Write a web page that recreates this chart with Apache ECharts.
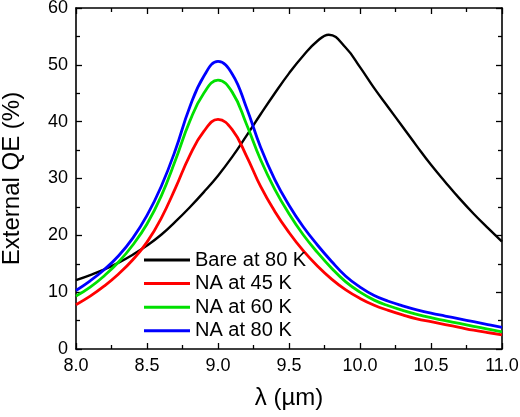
<!DOCTYPE html>
<html>
<head>
<meta charset="utf-8">
<script src="https://cdn.jsdelivr.net/npm/echarts@6/dist/echarts.min.js"></script>
<style>html,body{margin:0;padding:0;background:#fff}#c{width:520px;height:417px}</style>
</head>
<body>
<div id="c"></div>
<script>
// Wavelength grids (µm)
var lambdaNA = [8.0,8.1,8.2,8.3,8.4,8.5,8.6,8.7,8.8,8.9,9.0,9.1,9.2,9.3,9.4,9.5,9.6,9.7,9.8,9.9,10.0,10.1,10.2,10.3,10.4,10.5,10.6,10.7,10.8,10.9,11.0];
var lambdaBare = [8.0,8.1,8.2,8.3,8.4,8.5,8.6,8.7,8.8,8.9,9.0,9.1,9.2,9.3,9.4,9.5,9.6,9.7,9.78,9.9,10.0,10.1,10.2,10.3,10.4,10.5,10.6,10.7,10.8,10.9,11.0];
// External QE (%)
var bare80 = [12.1,13.0,14.0,15.2,16.6,18.2,20.1,22.4,24.9,27.6,30.5,33.8,37.5,41.3,45.0,48.5,51.6,54.2,55.3,53.0,49.6,45.9,42.5,39.1,35.7,32.4,29.4,26.5,23.8,21.3,18.9];
var na45 = [7.8,9.3,11.1,13.2,15.7,18.8,23.0,28.3,34.0,38.3,40.4,38.6,34.0,28.6,24.2,20.5,17.3,14.6,12.3,10.4,8.9,7.7,6.8,6.0,5.3,4.8,4.3,3.8,3.3,2.9,2.5];
var na60 = [9.3,10.9,12.9,15.3,18.3,22.0,26.9,33.2,40.0,45.0,47.3,45.2,39.6,33.3,28.1,23.8,20.1,17.0,14.2,11.8,10.0,8.6,7.6,6.8,6.1,5.5,5.0,4.5,4.0,3.5,3.0];
var na80 = [10.3,12.0,14.0,16.4,19.5,23.5,28.6,35.0,42.5,48.0,50.6,48.4,42.5,35.5,29.8,25.3,21.5,18.3,15.4,12.8,10.9,9.4,8.4,7.6,6.9,6.3,5.8,5.3,4.8,4.3,3.8];
var seriesNames = ['Bare at 80 K','NA at 45 K','NA at 60 K','NA at 80 K'];

function pairs(xs, ys){ return xs.map(function(x,i){ return [x, ys[i]]; }); }

var font = 'Liberation Sans, Arial, sans-serif';
var chart = echarts.init(document.getElementById('c'), null, {renderer:'canvas'});

function xAx(pos, show){
  return {
    type:'value', min:8, max:11, interval:0.5, position:pos,
    axisLine:{show:true, onZero:false, lineStyle:{color:'#000', width:1.6}},
    axisTick:{show:true, inside:true, length:6, lineStyle:{color:'#000', width:1.3}},
    minorTick:{show:true, splitNumber:2, length:4, lineStyle:{color:'#000', width:1.3}},
    splitLine:{show:false},
    axisLabel:{show:show, color:'#000', fontSize:18, fontFamily:font, margin:8,
      formatter:function(v){ return v.toFixed(1); }},
    name: show ? 'λ (µm)' : '', nameLocation:'middle', nameGap:37,
    nameTextStyle:{color:'#000', fontSize:24, fontFamily:font}
  };
}
function yAx(pos, show){
  return {
    type:'value', min:0, max:60, interval:10, position:pos,
    axisLine:{show:true, onZero:false, lineStyle:{color:'#000', width:1.6}},
    axisTick:{show:true, inside:true, length:6, lineStyle:{color:'#000', width:1.3}},
    minorTick:{show:true, splitNumber:2, length:4, lineStyle:{color:'#000', width:1.3}},
    splitLine:{show:false},
    axisLabel:{show:show, color:'#000', fontSize:18, fontFamily:font, margin:8},
    name: show ? 'External QE (%)' : '', nameLocation:'middle', nameGap:52,
    nameTextStyle:{color:'#000', fontSize:24, fontFamily:font}
  };
}

var colors = ['#000000','#ff0000','#00e000','#0000ff'];
var datas = [pairs(lambdaBare,bare80), pairs(lambdaNA,na45), pairs(lambdaNA,na60), pairs(lambdaNA,na80)];

chart.setOption({
  animation:false,
  backgroundColor:'#fff',
  grid:{left:76, right:18, top:8, bottom:68, containLabel:false, outerBoundsMode:'none'},
  xAxis:[xAx('bottom', true), xAx('top', false)],
  yAxis:[yAx('left', true), yAx('right', false)],
  legend:{
    orient:'vertical', left:144, top:250, padding:0,
    icon:'rect', itemWidth:46, itemHeight:3, itemGap:3.6,
    textStyle:{color:'#000', fontSize:20, lineHeight:20, fontFamily:font},
    data:seriesNames
  },
  series: seriesNames.map(function(n,i){
    return {
      name:n, type:'line', data:datas[i], smooth:0.45, symbol:'none',
      lineStyle:{color:colors[i], width: i===0 ? 2.4 : 2.8},
      itemStyle:{color:colors[i]}
    };
  })
});
</script>
</body>
</html>
